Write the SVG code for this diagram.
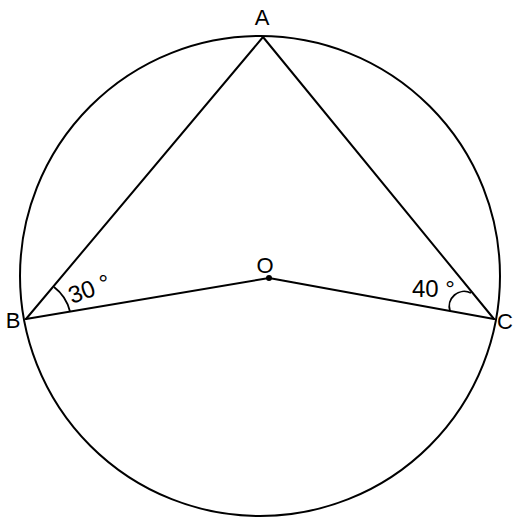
<svg xmlns="http://www.w3.org/2000/svg" width="525" height="521" viewBox="0 0 525 521">
<style>
.ln{fill:none;stroke:#000;stroke-width:2;stroke-linecap:round;stroke-linejoin:round}
.ar{fill:none;stroke:#000;stroke-width:1.8}
.t{font-family:"Liberation Sans",Arial,sans-serif;font-size:22px;fill:#000}
.n{font-family:"Liberation Sans",Arial,sans-serif;font-size:24px;fill:#000}
</style>
<rect width="525" height="521" fill="#fff"/>
<g id="circle"><circle cx="260" cy="276" r="240" class="ln"/></g>
<g id="connectors">
<path class="ln" d="M26,319 L263,37 L494,319"/>
<path class="ln" d="M26,319 L269,278 L494,319"/>
</g>
<g id="angleB">
<path class="ar" d="M54,287 A44,44 0 0 1 70,311.5"/>
<text class="n" transform="translate(72,304) rotate(-20)">30 °</text>
</g>
<g id="angleC">
<path class="ar" d="M450,311 A15,15 0 0 1 471,293"/>
<text class="n" x="412" y="297">40 °</text>
</g>
<g id="A"><text class="t" x="262" y="25" text-anchor="middle">A</text></g>
<g id="B"><text class="t" x="13" y="328" text-anchor="middle">B</text></g>
<g id="C"><text class="t" x="505" y="329" text-anchor="middle">C</text></g>
<g id="O"><circle cx="269" cy="278" r="3" fill="#000"/><text class="t" x="265" y="273" text-anchor="middle">O</text></g>
</svg>
